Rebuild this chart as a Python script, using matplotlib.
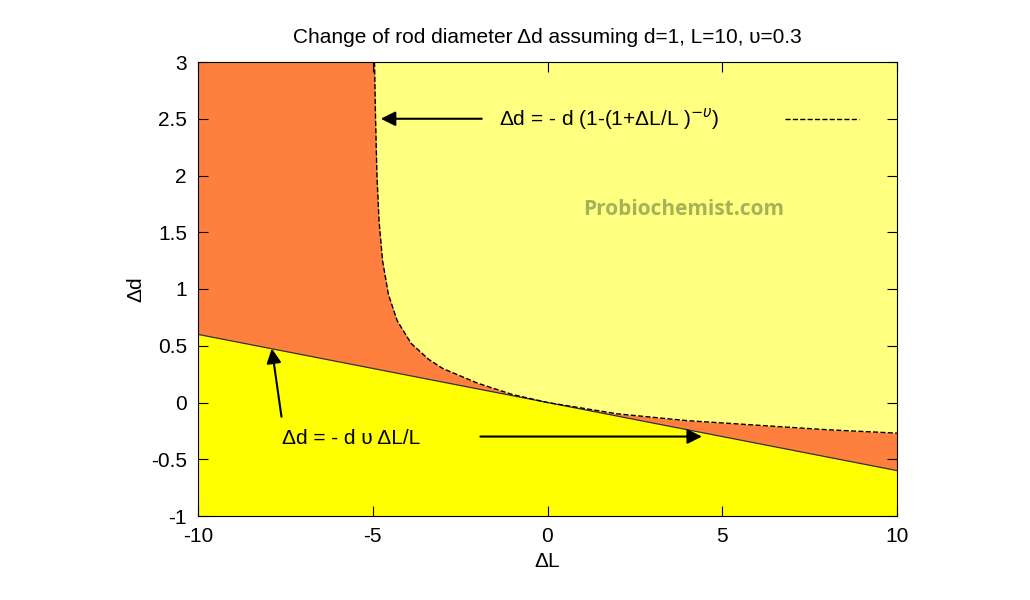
import numpy as np
import matplotlib.pyplot as plt

plt.rcParams['font.family'] = ['Liberation Sans', 'DejaVu Sans']
plt.rcParams['axes.unicode_minus'] = False

# values
line_x = [-10, 10]
line_y = [0.6, -0.6]
curve_x = [-4.95, -4.92, -4.88, -4.82, -4.72, -4.55, -4.3, -3.9, -3.4, -3.0, -2.0, -1.0, 0.0, 2.0, 4.0, 6.0, 8.0, 10.0]
curve_y = [3.0, 2.5, 2.0, 1.6, 1.25, 0.95, 0.72, 0.52, 0.38, 0.3, 0.17, 0.07, 0.0, -0.1, -0.16, -0.2, -0.24, -0.27]
xticks = [-10, -5, 0, 5, 10]
yticks = [-1, -0.5, 0, 0.5, 1, 1.5, 2, 2.5, 3]

orange = '#ff7f3f'
light = '#ffff80'
yellow = '#ffff00'

fig = plt.figure(figsize=(10.3, 6.0), dpi=100)
ax = fig.add_axes([198/1030, 1 - 516/600, 699/1030, 454/600])

xs = np.linspace(-10, 10, 401)
ls = np.interp(xs, line_x, line_y)
ax.fill_between(xs, ls, 3, color=orange, lw=0)
ax.fill_between(curve_x, curve_y, 3, color=light, lw=0)
ax.fill_between(xs, -1, ls, color=yellow, lw=0)
ax.plot(line_x, line_y, color='#333333', lw=0.9)
ax.plot(curve_x, curve_y, color='black', lw=1, ls='--')

ax.set_xlim(-10, 10)
ax.set_ylim(-1, 3)
ax.set_xticks(xticks)
ax.set_yticks(yticks)
ax.set_yticklabels(['-1', '-0.5', '0', '0.5', '1', '1.5', '2', '2.5', '3'])
ax.tick_params(direction='in', top=True, right=True, labelsize=15, length=7, pad=8)
ax.set_xlabel('ΔL', fontsize=15)
ax.set_ylabel('Δd', fontsize=15)
ax.set_title('Change of rod diameter Δd assuming d=1, L=10, υ=0.3', fontsize=15, pad=14)

ax.text(-1.4, 2.5, 'Δd = - d (1-(1+ΔL/L )$^{-υ}$)', fontsize=15, va='center')
ax.plot([6.8, 8.9], [2.5, 2.5], color='black', ls='--', lw=1)
ap = dict(arrowstyle='-|>', color='black', lw=1.5, mutation_scale=22)
ax.annotate('', xy=(-4.85, 2.5), xytext=(-1.8, 2.5), arrowprops=ap)
ax.text(-7.6, -0.32, 'Δd = - d υ ΔL/L', fontsize=15, va='center')
ax.annotate('', xy=(-7.9, 0.5), xytext=(-7.6, -0.15), arrowprops=ap)
ax.annotate('', xy=(4.5, -0.3), xytext=(-2.0, -0.3), arrowprops=ap)

ax.text(3.9, 1.7, 'Probiochemist.com', fontsize=15, color='#9aaa55',
        fontweight='bold', ha='center', va='center', family='Open Sans', alpha=0.9)

fig.savefig('out.png')
